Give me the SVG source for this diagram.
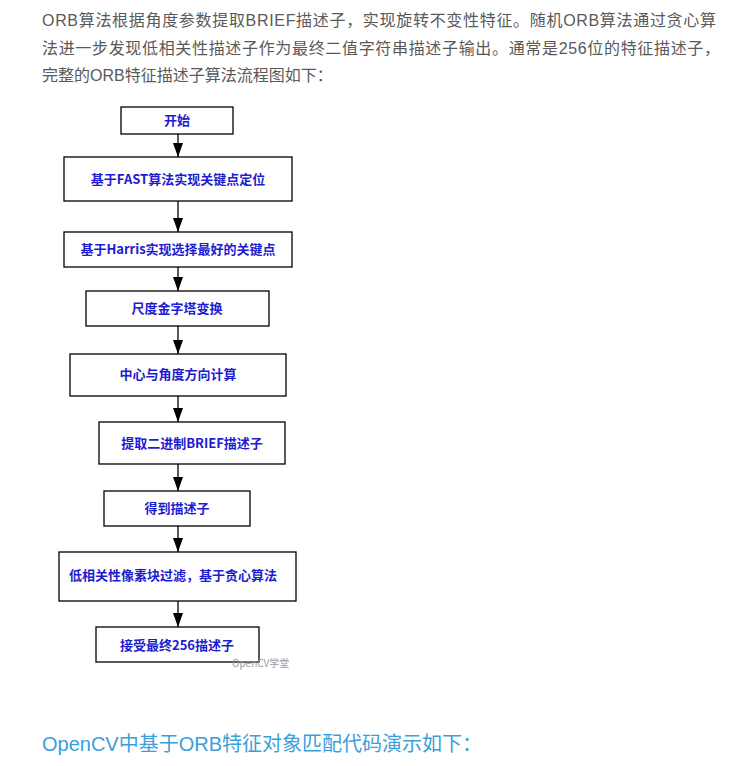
<svg xmlns="http://www.w3.org/2000/svg" width="751" height="766" viewBox="0 0 751 766">
<style>
.p{font-family:"Liberation Sans","Noto Sans CJK SC",sans-serif;font-size:16px;fill:#595959}
.b rect{fill:#fff;stroke:#000;stroke-width:1.3}
.b text{font-family:"Noto Sans CJK SC",sans-serif;font-size:13px;font-weight:bold;fill:#1c1cd0;text-anchor:middle}
.c line{stroke:#000;stroke-width:1.3}
</style>
<defs><marker id="a" markerWidth="14" markerHeight="10" refX="14" refY="5" orient="auto" markerUnits="userSpaceOnUse" viewBox="0 0 14 10"><path d="M0,0L14,5L0,10Z" fill="#000"/></marker></defs>
<rect width="751" height="766" fill="#fff"/>
<text class="p" x="42" y="26" textLength="674">ORB算法根据角度参数提取BRIEF描述子，实现旋转不变性特征。随机ORB算法通过贪心算</text>
<text class="p" x="42" y="54" textLength="678">法进一步发现低相关性描述子作为最终二值字符串描述子输出。通常是256位的特征描述子，</text>
<text class="p" x="42" y="81">完整的ORB特征描述子算法流程图如下：</text>
<g class="c">
<line x1="178" y1="134" x2="178" y2="157" marker-end="url(#a)"/>
<line x1="178" y1="201" x2="178" y2="232" marker-end="url(#a)"/>
<line x1="178" y1="267" x2="178" y2="291" marker-end="url(#a)"/>
<line x1="178" y1="326" x2="178" y2="354" marker-end="url(#a)"/>
<line x1="178" y1="396" x2="178" y2="422" marker-end="url(#a)"/>
<line x1="178" y1="464" x2="178" y2="491" marker-end="url(#a)"/>
<line x1="178" y1="526" x2="178" y2="552" marker-end="url(#a)"/>
<line x1="178" y1="601" x2="178" y2="627" marker-end="url(#a)"/>
</g>
<g id="n1" class="b"><rect x="121" y="107" width="112" height="27"/><text x="177" y="125">开始</text></g>
<g id="n2" class="b"><rect x="64" y="157" width="228" height="44"/><text x="178" y="184">基于FAST算法实现关键点定位</text></g>
<g id="n3" class="b"><rect x="64" y="232" width="228" height="35"/><text x="178" y="254">基于Harris实现选择最好的关键点</text></g>
<g id="n4" class="b"><rect x="86" y="291" width="183" height="35"/><text x="177" y="313">尺度金字塔变换</text></g>
<g id="n5" class="b"><rect x="70" y="354" width="216" height="42"/><text x="178" y="379">中心与角度方向计算</text></g>
<g id="n6" class="b"><rect x="99" y="422" width="186" height="42"/><text x="192" y="448">提取二进制BRIEF描述子</text></g>
<g id="n7" class="b"><rect x="104" y="491" width="146" height="35"/><text x="177" y="513">得到描述子</text></g>
<g id="n8" class="b"><rect x="59" y="552" width="237" height="49"/><text x="173" y="580">低相关性像素块过滤，基于贪心算法</text></g>
<g id="n9" class="b"><rect x="96" y="627" width="163" height="35"/><text x="177" y="650">接受最终256描述子</text></g>
<text x="232" y="667" style="font-family:'Noto Sans CJK SC',sans-serif;font-size:10px;fill:#999">OpenCV学堂</text>
<text x="42" y="751" style="font-family:'Liberation Sans','Noto Sans CJK SC',sans-serif;font-size:20px;fill:#3a9fdc">OpenCV中基于ORB特征对象匹配代码演示如下：</text>
</svg>
